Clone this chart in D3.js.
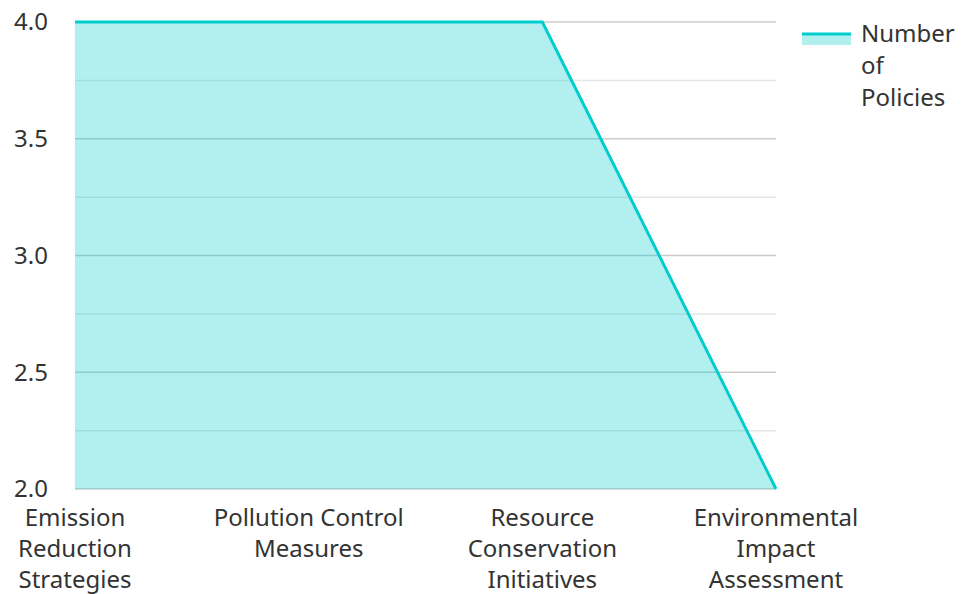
<!DOCTYPE html>
<html>
<head>
<meta charset="utf-8">
<script src="https://cdn.jsdelivr.net/npm/d3@7"></script>
<style>
  body { margin: 0; background: #fff; }
  text { font-family: "Noto Sans", "Open Sans", sans-serif; }
</style>
</head>
<body>
<div id="general"></div>
<script>
const w = 962, h = 594;
const m = {l: 75, r: 186, t: 22, b: 105};

const categories = ["Emission Reduction Strategies", "Pollution Control Measures", "Resource Conservation Initiatives", "Environmental Impact Assessment"];
const policies = [4, 4, 4, 2];
const yTicks = [2.0, 2.5, 3.0, 3.5, 4.0];
const yMinor = [2.25, 2.75, 3.25, 3.75];
const seriesName = "Number of Policies";

const lineCol = "#00cdcd";
const fillCol = "rgba(0,205,205,0.3)";
const fs = 24;

const svg = d3.select("#general").append("svg")
  .attr("width", w).attr("height", h);

const x = d3.scalePoint().domain(categories).range([m.l, w - m.r]);
const y = d3.scaleLinear().domain([2, 4]).range([h - m.b, m.t]);

// grid
svg.append("g").selectAll("line")
  .data(yMinor)
  .join("line")
    .attr("x1", m.l).attr("x2", w - m.r)
    .attr("y1", d => y(d)).attr("y2", d => y(d))
    .attr("stroke", "#e6e6e6").attr("stroke-width", 1.5);

svg.append("g").selectAll("line")
  .data(yTicks)
  .join("line")
    .attr("x1", m.l).attr("x2", w - m.r)
    .attr("y1", d => y(d)).attr("y2", d => y(d))
    .attr("stroke", "#cccccc").attr("stroke-width", 1.5);

const pts = categories.map((c, i) => ({c, v: policies[i]}));

svg.append("path")
  .datum(pts)
  .attr("fill", fillCol)
  .attr("d", d3.area().x(d => x(d.c)).y0(y(2)).y1(d => y(d.v)));

svg.append("path")
  .datum(pts)
  .attr("fill", "none")
  .attr("stroke", lineCol)
  .attr("stroke-width", 3)
  .attr("d", d3.line().x(d => x(d.c)).y(d => y(d.v)));

// y labels
svg.append("g").selectAll("text")
  .data(yTicks)
  .join("text")
    .attr("x", 48).attr("y", d => y(d))
    .attr("dy", "0.35em")
    .attr("text-anchor", "end")
    .attr("font-size", fs)
    .attr("fill", "#333")
    .text(d => d.toFixed(1));

// wrap helper
function wrap(sel, width, lh) {
  sel.each(function() {
    const t = d3.select(this);
    const words = t.text().split(/\s+/);
    const x0 = t.attr("x");
    t.text(null);
    let line = [], lines = [];
    let tspan = t.append("tspan");
    words.forEach(wd => {
      line.push(wd);
      tspan.text(line.join(" "));
      if (tspan.node().getComputedTextLength() > width && line.length > 1) {
        line.pop();
        lines.push(line.join(" "));
        line = [wd];
        tspan.text(wd);
      }
    });
    lines.push(line.join(" "));
    t.text(null);
    lines.forEach((l, i) => {
      t.append("tspan").attr("x", x0).attr("dy", i === 0 ? 0 : lh).text(l);
    });
  });
}

svg.append("g").selectAll("text")
  .data(categories)
  .join("text")
    .attr("x", d => x(d)).attr("y", 526)
    .attr("text-anchor", "middle")
    .attr("font-size", fs)
    .attr("fill", "#333")
    .text(d => d)
    .call(wrap, 205, 31);

// legend
const lg = svg.append("g");
lg.append("rect").attr("x", 802).attr("y", 35).attr("width", 49).attr("height", 10).attr("fill", fillCol);
lg.append("line").attr("x1", 802).attr("x2", 851).attr("y1", 34).attr("y2", 34)
  .attr("stroke", lineCol).attr("stroke-width", 3);
lg.append("text")
  .attr("x", 861).attr("y", 42)
  .attr("font-size", fs)
  .attr("fill", "#333")
  .text(seriesName)
  .call(wrap, 60, 32);
</script>
</body>
</html>
